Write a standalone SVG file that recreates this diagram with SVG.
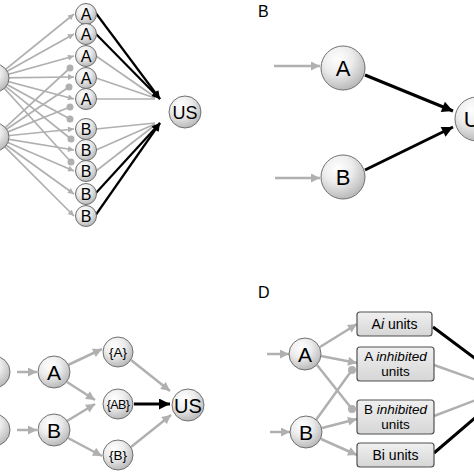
<svg xmlns="http://www.w3.org/2000/svg" width="474" height="474" viewBox="0 0 474 474">
<defs>
<radialGradient id="gr" cx="0.38" cy="0.3" r="0.75">
<stop offset="0" stop-color="#ffffff"/>
<stop offset="0.45" stop-color="#ececec"/>
<stop offset="1" stop-color="#b4b4b4"/>
</radialGradient>
<linearGradient id="bx" x1="0" y1="0" x2="0" y2="1">
<stop offset="0" stop-color="#f0f0f0"/>
<stop offset="1" stop-color="#d6d6d6"/>
</linearGradient>
<marker id="ag" viewBox="0 0 10 10" refX="10" refY="5" markerWidth="7" markerHeight="6" markerUnits="userSpaceOnUse" orient="auto"><path d="M0,0 L10,5 L0,10 z" fill="#b0b0b0"/></marker>
<marker id="agL" viewBox="0 0 10 10" refX="10" refY="5" markerWidth="10" markerHeight="9" markerUnits="userSpaceOnUse" orient="auto"><path d="M0,0 L10,5 L0,10 z" fill="#b0b0b0"/></marker>
<marker id="ab" viewBox="0 0 10 10" refX="10" refY="5" markerWidth="10" markerHeight="8" markerUnits="userSpaceOnUse" orient="auto"><path d="M0,0 L10,5 L0,10 z" fill="#000"/></marker>
<marker id="abL" viewBox="0 0 10 10" refX="10" refY="5" markerWidth="13" markerHeight="11" markerUnits="userSpaceOnUse" orient="auto"><path d="M0,0 L10,5 L0,10 z" fill="#000"/></marker>
</defs>
<style>
.n{fill:url(#gr);stroke:#707070;stroke-width:1}
.b{fill:url(#bx);stroke:#505050;stroke-width:1.2}
.t{font-family:"Liberation Sans",Arial,sans-serif;fill:#000;text-anchor:middle}
.g{stroke:#b0b0b0;stroke-width:1.7;fill:none}
.gt{stroke:#b0b0b0;stroke-width:2.5;fill:none}
.k{stroke:#000;stroke-width:2.2;fill:none}
.kt{stroke:#000;stroke-width:3;fill:none}
.d{fill:#b0b0b0}
.lbl{font-family:"Liberation Sans",Arial,sans-serif;font-size:16px;fill:#000}
</style>

<g id="connectors">
<!-- Panel A inputs -->
<line class="g" x1="-5" y1="78" x2="74" y2="14" marker-end="url(#ag)"/>
<line class="g" x1="-5" y1="78" x2="74" y2="34" marker-end="url(#ag)"/>
<line class="g" x1="-5" y1="78" x2="74" y2="56" marker-end="url(#ag)"/>
<line class="g" x1="-5" y1="78" x2="74" y2="77" marker-end="url(#ag)"/>
<line class="g" x1="-5" y1="78" x2="74" y2="99" marker-end="url(#ag)"/>
<line class="g" x1="-5" y1="78" x2="70" y2="119"/>
<line class="g" x1="-5" y1="78" x2="71" y2="139"/>
<line class="g" x1="-5" y1="78" x2="71" y2="162"/>
<line class="g" x1="-5" y1="137" x2="74" y2="129" marker-end="url(#ag)"/>
<line class="g" x1="-5" y1="137" x2="74" y2="150" marker-end="url(#ag)"/>
<line class="g" x1="-5" y1="137" x2="74" y2="171" marker-end="url(#ag)"/>
<line class="g" x1="-5" y1="137" x2="74" y2="194" marker-end="url(#ag)"/>
<line class="g" x1="-5" y1="137" x2="74" y2="216" marker-end="url(#ag)"/>
<line class="g" x1="-5" y1="137" x2="70" y2="68"/>
<line class="g" x1="-5" y1="137" x2="69" y2="87"/>
<line class="g" x1="-5" y1="137" x2="70" y2="107"/>
<circle class="d" cx="70" cy="68" r="3.5"/>
<circle class="d" cx="69" cy="87" r="3.5"/>
<circle class="d" cx="70" cy="107" r="3.5"/>
<circle class="d" cx="70" cy="119" r="3.5"/>
<circle class="d" cx="71" cy="139" r="3.5"/>
<circle class="d" cx="71" cy="162" r="3.5"/>
<!-- Panel A outputs -->
<line class="g" x1="96" y1="56" x2="155" y2="97"/>
<line class="g" x1="96" y1="78" x2="155" y2="98"/>
<line class="g" x1="96" y1="99" x2="155" y2="99"/>
<line class="k" x1="95" y1="12" x2="160" y2="99" marker-end="url(#ab)"/>
<line class="k" x1="95" y1="33" x2="160" y2="99" marker-end="url(#ab)"/>
<line class="g" x1="96" y1="129" x2="155" y2="123"/>
<line class="g" x1="96" y1="150" x2="155" y2="124"/>
<line class="g" x1="96" y1="171" x2="155" y2="125"/>
<line class="k" x1="95" y1="194" x2="160" y2="123" marker-end="url(#ab)"/>
<line class="k" x1="95" y1="216" x2="160" y2="123" marker-end="url(#ab)"/>
<!-- Panel B -->
<line class="gt" x1="274" y1="66" x2="320" y2="66" marker-end="url(#agL)"/>
<line class="gt" x1="275" y1="178" x2="320" y2="178" marker-end="url(#agL)"/>
<line class="kt" x1="365" y1="75" x2="453" y2="111" marker-end="url(#abL)"/>
<line class="kt" x1="365" y1="170" x2="453" y2="127" marker-end="url(#abL)"/>
<!-- Panel C -->
<line class="gt" x1="17" y1="372" x2="37" y2="372" marker-end="url(#agL)"/>
<line class="gt" x1="17" y1="430" x2="37" y2="430" marker-end="url(#agL)"/>
<line class="gt" x1="68" y1="365" x2="102" y2="349" marker-end="url(#agL)"/>
<line class="gt" x1="67" y1="382" x2="95" y2="400" marker-end="url(#agL)"/>
<line class="gt" x1="67" y1="421" x2="95" y2="404" marker-end="url(#agL)"/>
<line class="gt" x1="68" y1="438" x2="102" y2="456" marker-end="url(#agL)"/>
<line class="gt" x1="131" y1="360" x2="170" y2="391" marker-end="url(#agL)"/>
<line class="gt" x1="131" y1="447" x2="171" y2="415" marker-end="url(#agL)"/>
<line class="kt" x1="134" y1="404" x2="170" y2="404" marker-end="url(#abL)"/>
<!-- Panel D -->
<line class="gt" x1="267" y1="354" x2="289" y2="354" marker-end="url(#agL)"/>
<line class="gt" x1="270" y1="432" x2="290" y2="432" marker-end="url(#agL)"/>
<line class="gt" x1="320" y1="347" x2="357" y2="324" marker-end="url(#agL)"/>
<line class="gt" x1="321" y1="356" x2="357" y2="363" marker-end="url(#agL)"/>
<line class="gt" x1="317" y1="365" x2="352" y2="409"/>
<circle class="d" cx="352" cy="409" r="4"/>
<line class="gt" x1="316" y1="420" x2="352" y2="370"/>
<circle class="d" cx="352" cy="370" r="4"/>
<line class="gt" x1="322" y1="428" x2="357" y2="419" marker-end="url(#agL)"/>
<line class="gt" x1="321" y1="439" x2="357" y2="455" marker-end="url(#agL)"/>
<line class="kt" x1="433" y1="327" x2="476" y2="359"/>
<line class="gt" x1="434" y1="365" x2="476" y2="380"/>
<line class="gt" x1="434" y1="416" x2="476" y2="400"/>
<line class="kt" x1="434" y1="453" x2="476" y2="417"/>
</g>

<!-- Panel A nodes -->
<g id="a-inA"><circle class="n" cx="-5" cy="78" r="14"/></g>
<g id="a-inB"><circle class="n" cx="-5" cy="137" r="14"/></g>
<g id="a-A1"><circle class="n" cx="86" cy="14" r="10.5"/><text class="t" x="86" y="19.5" font-size="16">A</text></g>
<g id="a-A2"><circle class="n" cx="86" cy="34" r="10.5"/><text class="t" x="86" y="39.5" font-size="16">A</text></g>
<g id="a-A3"><circle class="n" cx="86" cy="56" r="10.5"/><text class="t" x="86" y="61.5" font-size="16">A</text></g>
<g id="a-A4"><circle class="n" cx="86" cy="78" r="10.5"/><text class="t" x="86" y="83.5" font-size="16">A</text></g>
<g id="a-A5"><circle class="n" cx="86" cy="99" r="10.5"/><text class="t" x="86" y="104.5" font-size="16">A</text></g>
<g id="a-B1"><circle class="n" cx="86" cy="129" r="10.5"/><text class="t" x="86" y="134.5" font-size="16">B</text></g>
<g id="a-B2"><circle class="n" cx="86" cy="150" r="10.5"/><text class="t" x="86" y="155.5" font-size="16">B</text></g>
<g id="a-B3"><circle class="n" cx="86" cy="171" r="10.5"/><text class="t" x="86" y="176.5" font-size="16">B</text></g>
<g id="a-B4"><circle class="n" cx="86" cy="194" r="10.5"/><text class="t" x="86" y="199.5" font-size="16">B</text></g>
<g id="a-B5"><circle class="n" cx="86" cy="216" r="10.5"/><text class="t" x="86" y="221.5" font-size="16">B</text></g>
<g id="a-US"><circle class="n" cx="185" cy="112" r="16"/><text class="t" x="185" y="118.5" font-size="18">US</text></g>

<!-- Panel B -->
<g id="b-label"><text class="lbl" x="258" y="17">B</text></g>
<g id="b-A"><circle class="n" cx="343" cy="68" r="22"/><text class="t" x="343" y="76" font-size="22">A</text></g>
<g id="b-B"><circle class="n" cx="343" cy="177" r="22"/><text class="t" x="343" y="185" font-size="22">B</text></g>
<g id="b-US"><circle class="n" cx="477" cy="119" r="22"/><text class="t" x="479" y="127" font-size="22">US</text></g>

<!-- Panel C -->
<g id="c-inA"><circle class="n" cx="-6" cy="372" r="16"/></g>
<g id="c-inB"><circle class="n" cx="-6" cy="430" r="16"/></g>
<g id="c-A"><circle class="n" cx="54" cy="372" r="16"/><text class="t" x="54" y="379.5" font-size="21">A</text></g>
<g id="c-B"><circle class="n" cx="54" cy="430" r="16"/><text class="t" x="54" y="437.5" font-size="21">B</text></g>
<g id="c-setA"><circle class="n" cx="118" cy="352" r="15"/><text class="t" x="118" y="357" font-size="13.5">{A}</text></g>
<g id="c-setAB"><circle class="n" cx="118" cy="404" r="15"/><text class="t" x="118" y="409" font-size="12.5" letter-spacing="-0.6">{AB}</text></g>
<g id="c-setB"><circle class="n" cx="118" cy="455" r="15"/><text class="t" x="118" y="460" font-size="13.5">{B}</text></g>
<g id="c-US"><circle class="n" cx="188" cy="405" r="16"/><text class="t" x="188" y="412.5" font-size="20">US</text></g>

<!-- Panel D -->
<g id="d-label"><text class="lbl" x="258" y="298">D</text></g>
<g id="d-A"><circle class="n" cx="305" cy="354" r="16"/><text class="t" x="305" y="361.5" font-size="21">A</text></g>
<g id="d-B"><circle class="n" cx="306" cy="432" r="16"/><text class="t" x="306" y="439.5" font-size="21">B</text></g>
<g id="d-Ai"><rect class="b" x="357" y="312" width="75" height="24" rx="3"/><text class="t" x="394.5" y="329" font-size="14">A<tspan font-style="italic">i</tspan> units</text></g>
<g id="d-Ainh"><rect class="b" x="357" y="347" width="77" height="34" rx="3"/><text class="t" x="395.5" y="361" font-size="13.5">A <tspan font-style="italic">inhibited</tspan></text><text class="t" x="395.5" y="376" font-size="13.5">units</text></g>
<g id="d-Binh"><rect class="b" x="357" y="400" width="77" height="34" rx="3"/><text class="t" x="395.5" y="414" font-size="13.5">B <tspan font-style="italic">inhibited</tspan></text><text class="t" x="395.5" y="429" font-size="13.5">units</text></g>
<g id="d-Bi"><rect class="b" x="357" y="443" width="77" height="24" rx="3"/><text class="t" x="395.5" y="460" font-size="14">Bi units</text></g>
</svg>
